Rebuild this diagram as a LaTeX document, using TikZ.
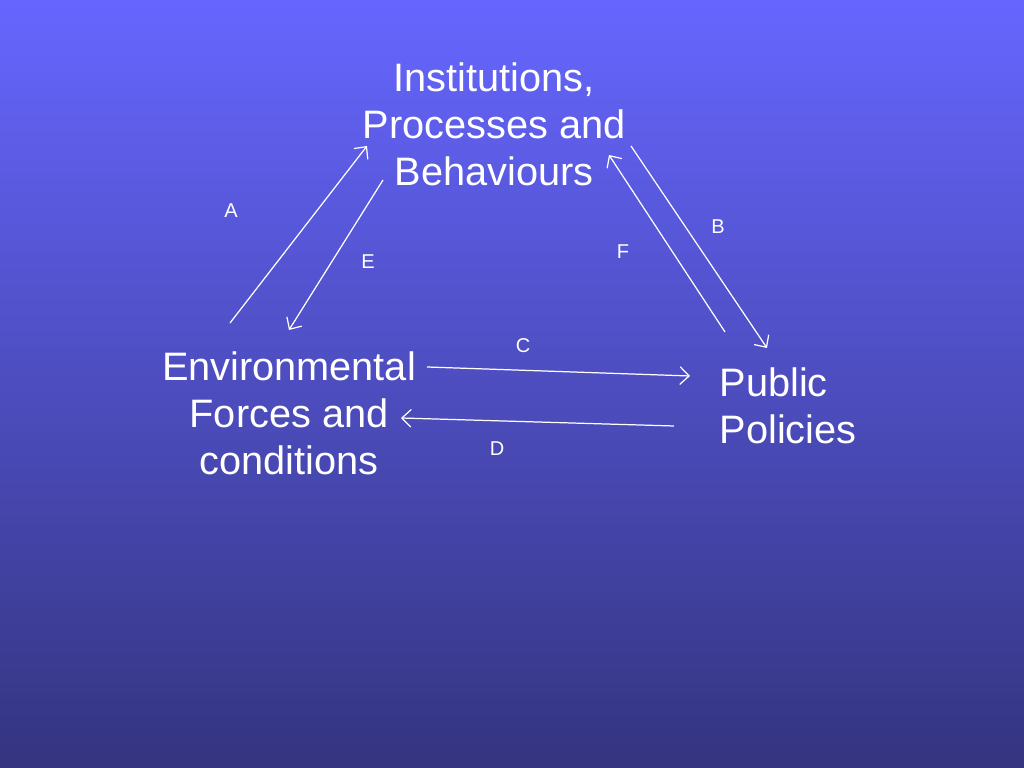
\documentclass[tikz,border=0pt]{standalone}
\usepackage{fontspec}
\setmainfont{Liberation Sans}
\usetikzlibrary{arrows.meta}
\definecolor{slidetop}{RGB}{102,102,255}
\definecolor{slidebot}{RGB}{52,52,128}
\tikzstyle{block} = [text=white, inner sep=0pt, align=center,
    font=\fontsize{11.3}{13.4}\selectfont]
\tikzstyle{tag} = [text=white, inner sep=0pt, font=\fontsize{5.7}{6.8}\selectfont]
\tikzstyle{line} = [draw=white, line width=0.35pt, -{Straight Barb[length=2.6pt,width=5pt]}]

\begin{document}
\begin{tikzpicture}
\shade [top color=slidetop, bottom color=slidebot] (0,0) rectangle (10.24,7.68);
\node [block] (inst) at (4.94,6.44) {Institutions,\\Processes and\\Behaviours};
\node [block] (env) at (2.89,3.55) {Environmental\\Forces and\\conditions};
\node [block, align=left, anchor=west] (pub) at (7.19,3.62) {Public\\Policies};
% arrow ends
\coordinate (a0) at (2.30,4.45); \coordinate (a1) at (3.67,6.22);
\coordinate (e0) at (3.83,5.88); \coordinate (e1) at (2.89,4.38);
\coordinate (f0) at (7.25,4.36); \coordinate (f1) at (6.09,6.13);
\coordinate (b0) at (6.31,6.22); \coordinate (b1) at (7.67,4.20);
\coordinate (c0) at (4.27,4.01); \coordinate (c1) at (6.90,3.92);
\coordinate (d0) at (6.74,3.42); \coordinate (d1) at (4.01,3.50);
\path [line] (a0) -- (a1);
\path [line] (e0) -- (e1);
\path [line] (f0) -- (f1);
\path [line] (b0) -- (b1);
\path [line] (c0) -- (c1);
\path [line] (d0) -- (d1);
\node [tag] (la) at (2.31,5.57) {A};
\node [tag] (le) at (3.68,5.06) {E};
\node [tag] (lf) at (6.23,5.16) {F};
\node [tag] (lb) at (7.18,5.41) {B};
\node [tag] (lc) at (5.23,4.22) {C};
\node [tag] (ld) at (4.97,3.19) {D};
\end{tikzpicture}
\end{document}
